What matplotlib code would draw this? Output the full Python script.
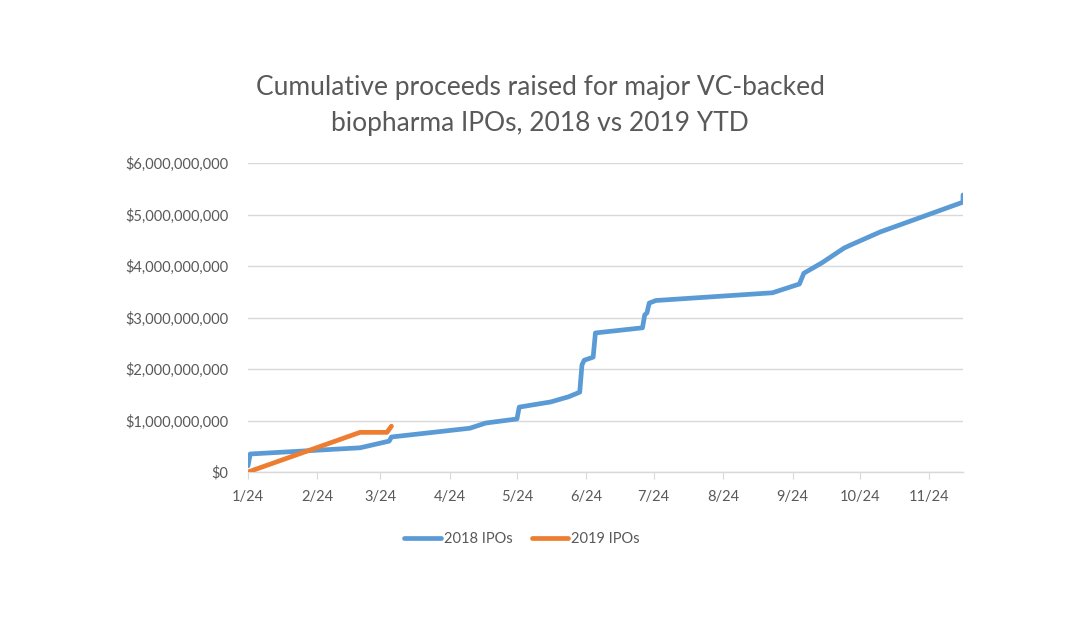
import matplotlib.pyplot as plt
import matplotlib.dates as mdates
import matplotlib.ticker as mticker
import pandas as pd

# cumulative proceeds (billions of $)
dates_2018 = ["2018-01-24", "2018-01-25", "2018-03-15", "2018-03-28", "2018-03-29",
              "2018-05-03", "2018-05-10", "2018-05-24", "2018-05-25", "2018-06-08",
              "2018-06-16", "2018-06-21", "2018-06-22", "2018-06-23", "2018-06-27",
              "2018-06-28", "2018-07-19", "2018-07-20", "2018-07-21", "2018-07-22",
              "2018-07-25", "2018-09-15", "2018-09-27", "2018-09-29", "2018-10-03",
              "2018-10-07", "2018-10-17", "2018-10-20", "2018-11-02", "2018-12-09",
              "2018-12-09"]
proceeds_2018 = [0.12, 0.35, 0.47, 0.60, 0.68,
                 0.85, 0.95, 1.03, 1.26, 1.36,
                 1.46, 1.55, 2.08, 2.17, 2.23,
                 2.70, 2.80, 3.05, 3.09, 3.28,
                 3.33, 3.48, 3.65, 3.86, 3.96,
                 4.06, 4.35, 4.41, 4.66, 5.24,
                 5.38]

dates_2019 = ["2018-01-24", "2018-03-15", "2018-03-27", "2018-03-29"]
proceeds_2019 = [0.0, 0.77, 0.77, 0.89]

tick_dates = pd.date_range("2018-01-01", "2018-11-01", freq="MS") + pd.Timedelta(days=23)

blue = "#5B9BD5"
orange = "#ED7D31"
grey_text = "#595959"

plt.rcParams["font.family"] = ["Lato", "DejaVu Sans"]

fig = plt.figure(figsize=(10.81, 6.19), dpi=100)
ax = fig.add_axes([248 / 1081, 1 - 472 / 619, (963 - 248) / 1081, (472 - 163) / 619])

x18 = pd.to_datetime(dates_2018)
x19 = pd.to_datetime(dates_2019)
ax.plot(x18, [v * 1e9 for v in proceeds_2018], color=blue, lw=3.4,
        solid_capstyle="round", solid_joinstyle="round", label="2018 IPOs", zorder=3)
ax.plot(x19, [v * 1e9 for v in proceeds_2019], color=orange, lw=3.4,
        solid_capstyle="round", solid_joinstyle="round", label="2019 IPOs", zorder=4)

ax.set_xlim(pd.Timestamp("2018-01-24"), pd.Timestamp("2018-12-09"))
ax.set_ylim(0, 6e9)
ax.set_yticks([i * 1e9 for i in range(7)])
ax.yaxis.set_major_formatter(mticker.FuncFormatter(lambda v, p: f"${v:,.0f}"))
ax.set_xticks(tick_dates)
ax.xaxis.set_major_formatter(mdates.DateFormatter("%-m/%d"))

ax.grid(axis="y", color="#D9D9D9", lw=1)
ax.set_axisbelow(True)
for s in ["top", "right", "left"]:
    ax.spines[s].set_visible(False)
ax.spines["bottom"].set_color("#D9D9D9")
ax.spines["bottom"].set_linewidth(1)
ax.tick_params(axis="y", length=0, pad=14, labelsize=10.5, labelcolor=grey_text)
ax.tick_params(axis="x", length=5, color="#D9D9D9", pad=8, labelsize=10.5, labelcolor=grey_text)

fig.text(540 / 1081, 1 - 105 / 619,
         "Cumulative proceeds raised for major VC-backed\nbiopharma IPOs, 2018 vs 2019 YTD",
         ha="center", va="center", fontsize=19, color=grey_text, linespacing=1.55)

leg = fig.legend(loc="center", bbox_to_anchor=(522 / 1081, 1 - 539 / 619), ncol=2,
                 frameon=False, fontsize=10.5, handlelength=2.5, handletextpad=0.2,
                 columnspacing=1.3)
for t in leg.get_texts():
    t.set_color(grey_text)

fig.savefig("out.png", dpi=100)
